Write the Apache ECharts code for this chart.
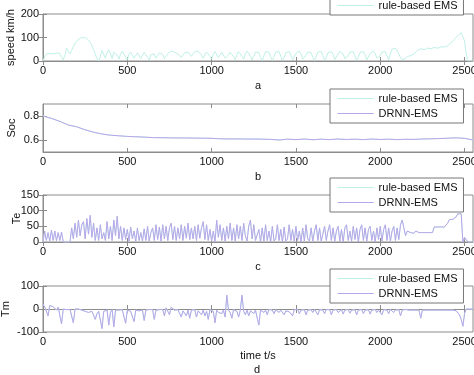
<!DOCTYPE html>
<html><head><meta charset="utf-8">
<script src="https://cdn.jsdelivr.net/npm/echarts@6/dist/echarts.min.js"></script>
<style>html,body{margin:0;padding:0;background:#fff}#c{width:474px;height:375px}</style>
</head><body><div id="c"></div>
<script>
// sample step (s) of the traces below
const stepFast = 10;
const stepSoc = 50;
const xTicks = [0, 500, 1000, 1500, 2000, 2500];
const seriesNames = ['rule-based EMS', 'DRNN-EMS'];

// a: speed km/h (rule-based EMS), one value every 10 s
const speed = [
 0,18,30,26,32,38,30,22,34,40,
 32,15,5,25,55,48,30,45,62,75,
 85,92,97,100,101,100,96,90,80,66,
 48,28,10,0,20,45,38,12,35,48,
 30,10,38,45,25,8,30,42,35,15,
 5,28,38,32,12,20,35,30,10,25,
 38,34,15,5,28,36,30,12,22,35,
 38,28,10,20,32,38,42,40,38,35,
 30,22,15,25,35,40,38,30,20,28,
 40,45,42,35,25,12,28,38,36,20,
 8,30,40,35,15,25,38,34,12,5,
 25,38,36,18,6,28,40,38,20,8,
 30,42,40,22,5,20,38,42,36,15,
 2,22,40,44,38,18,2,20,38,42,
 40,20,3,15,35,42,40,25,5,12,
 32,40,42,30,8,5,25,38,42,35,
 15,2,20,38,44,40,22,3,15,35,
 42,40,28,6,8,30,40,42,30,10,
 2,22,38,44,40,20,3,18,36,42,
 40,26,5,10,32,40,42,32,12,4,
 22,38,44,40,22,5,30,50,58,55,
 45,30,15,5,2,10,20,18,22,30,
 30,38,45,50,52,50,48,52,55,54,
 52,55,58,56,54,58,60,62,60,62,
 65,70,78,85,92,100,108,115,120,118,
 85,30,0,0,0,0];

// b: battery SOC, one value every 50 s
const soc = [
 0.80,0.78,0.755,0.725,0.71,0.685,0.665,0.65,0.64,0.635,
 0.63,0.627,0.624,0.62,0.619,0.618,0.617,0.617,0.616,0.615,
 0.614,0.61,0.609,0.609,0.608,0.608,0.607,0.605,0.60,0.607,
 0.603,0.608,0.602,0.607,0.603,0.608,0.604,0.607,0.603,0.608,
 0.604,0.607,0.603,0.606,0.605,0.608,0.61,0.612,0.615,0.618,
 0.614,0.60];

// c: engine torque Te, one value every 10 s
const te = [
 0,35,5,30,3,38,5,35,4,30,
 5,32,0,0,0,0,0,45,10,60,
 15,70,20,55,65,10,75,25,85,15,
 60,5,45,5,55,10,30,5,65,10,
 50,5,70,20,82,10,50,5,45,8,
 40,3,48,10,35,2,45,5,30,3,
 42,5,50,3,30,45,5,55,8,48,
 3,55,10,50,5,45,60,8,50,5,
 45,10,55,5,50,12,60,8,45,10,
 50,5,55,12,45,65,8,55,5,40,
 3,35,0,70,15,55,5,45,3,50,
 10,60,5,45,3,55,10,50,5,60,
 20,3,50,70,10,55,5,3,40,0,
 45,3,55,5,35,0,50,3,10,55,
 5,40,0,48,3,10,55,5,40,2,
 50,5,35,0,45,3,55,10,3,45,
 2,35,55,5,45,3,0,50,5,35,
 55,5,45,2,35,50,3,40,0,45,
 55,5,35,2,50,8,45,0,40,55,
 5,45,2,40,50,5,35,0,45,8,
 50,3,40,55,5,45,2,35,50,5,
 45,8,55,70,45,20,35,40,30,35,
 28,35,30,30,30,30,30,30,30,30,
 30,30,48,48,48,48,48,48,48,50,
 60,72,75,72,76,80,90,92,90,0,
 15,10,0,0,0,0];

// d: motor torque Tm, one value every 10 s
const tm = [
 20,10,12,-30,15,8,10,5,-5,8,
 5,-65,0,2,-3,0,-2,-5,-60,0,
 2,0,-3,-5,-8,-10,-12,-15,-20,-10,
 -5,-45,-20,-10,-5,-85,-10,-3,-5,-70,
 -15,-3,-78,-5,-2,-5,-8,-3,-5,-62,
 -5,-3,-10,-2,-55,-5,-3,-8,-2,-5,
 -50,-5,-3,-2,-8,-3,-45,-5,-2,-3,
 -8,-2,-30,5,10,-25,8,5,-5,-10,
 -3,-5,-35,-8,-2,-30,-5,-40,-5,-10,
 -3,-35,-8,-2,-25,-5,-30,-10,-45,-3,
 -5,-10,-60,-5,-15,-8,-20,-5,-35,60,
 -5,-15,-40,-3,-8,-10,-35,-5,60,-10,
 -25,-5,-30,-8,-3,-20,-5,-10,-70,-5,
 -3,-15,-5,-25,-2,-10,-5,-20,-3,-8,
 -15,-5,-3,-25,-8,-2,-12,-5,-30,-3,
 -8,-2,-20,-5,-10,-3,-25,-5,-8,-3,
 -15,-2,-8,-25,-3,-10,-5,-20,-2,-8,
 -3,-25,-5,-10,-2,-15,-8,-3,-22,-5,
 -10,-2,-18,-5,-8,-3,-25,-5,-10,-2,
 -20,-5,-8,-3,-22,-5,-10,-2,-15,-5,
 -8,-25,-3,-10,-5,-20,-2,-8,-15,-5,
 -10,-3,-30,-5,0,-2,-3,-5,-3,-5,
 -5,-5,-5,-5,-40,-5,-5,-5,-5,-5,
 -5,-5,-5,-5,-5,-5,-5,-5,-5,-5,
 -5,-5,-5,-5,-5,-8,-15,-25,-45,-75,
 -20,0,0,0,0,0];

const panels = [
  {yName:'speed km/h', xName:'a', min:0, max:200, ticks:[0,100,200], top:14, height:47, nameGap:27, legend:[seriesNames[0]], lTop:-4},
  {yName:'Soc', xName:'b', min:0.5, max:0.9, ticks:[0.6,0.8], top:104, height:48, nameGap:26, legend:seriesNames, lTop:89},
  {yName:'Te', xName:'c', min:0, max:150, ticks:[0,50,100,150], top:195, height:47, nameGap:21, legend:seriesNames, lTop:178},
  {yName:'Tm', xName:'time t/s', min:-100, max:100, ticks:[-100,0,100], top:286, height:46, nameGap:32, legend:seriesNames, lTop:269}
];
const panelData = [[speed], [soc, soc], [te, te], [tm, tm]];
const panelStep = [stepFast, stepSoc, stepFast, stepFast];

const FONT = 'Liberation Sans, Arial, sans-serif';
const AX = '#8c8c8c';
const colors = ['#bff0e6', '#b8a6ea'];

const grid = [], xAxis = [], yAxis = [], series = [], legend = [];
panels.forEach((p, i) => {
  grid.push({left:43, width:430, top:p.top, height:p.height, containLabel:false, outerBoundsMode:'none',
    show:true, borderColor:AX, borderWidth:1, backgroundColor:'#fff'});
  xAxis.push({type:'value', gridIndex:i, min:0, max:2550, position:'bottom',
    axisLine:{show:true, lineStyle:{color:AX}},
    axisTick:{inside:true, length:4, lineStyle:{color:AX}, customValues:xTicks},
    axisLabel:{color:'#111', fontSize:11, fontFamily:FONT, margin:4, customValues:xTicks, formatter:v => String(v)},
    splitLine:{show:false}, nameMoveOverlap:false,
    name:p.xName, nameLocation:'middle', nameGap: i===3 ? 18 : 19,
    nameTextStyle:{color:'#111', fontSize:11, fontFamily:FONT}});
  xAxis.push({type:'value', gridIndex:i, min:0, max:2550, position:'top',
    axisLine:{show:false}, axisLabel:{show:false}, splitLine:{show:false},
    axisTick:{inside:true, length:4, lineStyle:{color:AX}, customValues:xTicks}});
  yAxis.push({type:'value', gridIndex:i, min:p.min, max:p.max, position:'left',
    axisLine:{show:true, lineStyle:{color:AX}},
    axisTick:{inside:true, length:4, lineStyle:{color:AX}, customValues:p.ticks},
    axisLabel:{color:'#111', fontSize:11, fontFamily:FONT, margin:4, customValues:p.ticks, formatter:v => String(v)},
    splitLine:{show:false}, nameMoveOverlap:false,
    name:p.yName, nameLocation:'middle', nameGap:p.nameGap, nameRotate:90,
    nameTextStyle:{color:'#111', fontSize:11, fontFamily:FONT}});
  yAxis.push({type:'value', gridIndex:i, min:p.min, max:p.max, position:'right',
    axisLine:{show:false}, axisLabel:{show:false}, splitLine:{show:false},
    axisTick:{inside:true, length:4, lineStyle:{color:AX}, customValues:p.ticks}});
  panelData[i].forEach((arr, k) => {
    series.push({type:'line', name:seriesNames[k], xAxisIndex:2*i, yAxisIndex:2*i,
      data: arr.map((v, j) => [j * panelStep[i], v]),
      symbol:'none', animation:false, z: 2 + k,
      lineStyle:{color:colors[k], width:1}, itemStyle:{color:colors[k]}});
  });
  legend.push({orient:'vertical', left:330, top:p.lTop,
    data:p.legend.map(n => ({name:n, itemStyle:{opacity:0},
      lineStyle:{color:colors[seriesNames.indexOf(n)], width:1.2, opacity:1}})),
    itemWidth:36, itemHeight:10, itemGap:4, padding:[4,6,4,7],
    backgroundColor:'#fff', borderColor:'#777', borderWidth:1,
    selectedMode:false,
    textStyle:{color:'#111', fontSize:11, fontFamily:FONT}});
});

const chart = echarts.init(document.getElementById('c'), null, {renderer:'canvas'});
chart.setOption({
  animation:false,
  backgroundColor:'#fff',
  grid, xAxis, yAxis, series, legend,
  graphic:[{type:'text', left:254, top:364, style:{text:'d', fontSize:11, fontFamily:FONT, fill:'#111'}}]
});
</script></body></html>
